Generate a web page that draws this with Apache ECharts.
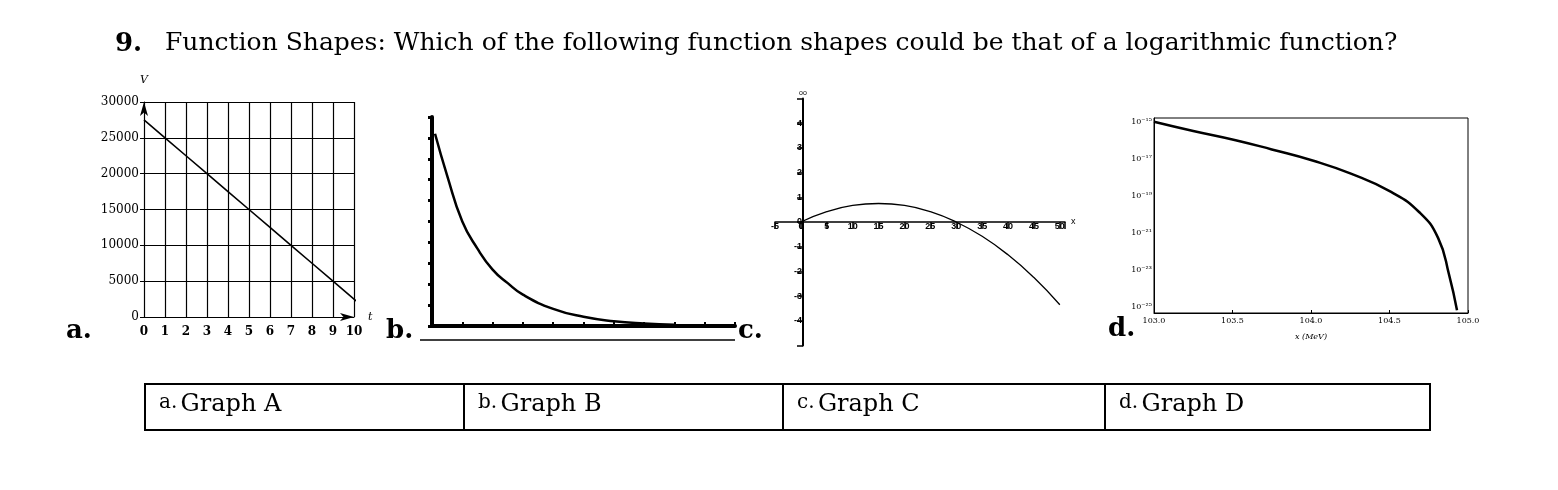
<!DOCTYPE html>
<html>
<head>
<meta charset="UTF-8">
<script src="https://cdn.jsdelivr.net/npm/echarts@6/dist/echarts.min.js"></script>
<style>html,body{margin:0;background:#fff}#main{width:1558px;height:490px}</style>
</head>
<body>
<div id="main"></div>
<script>
// Graph A: linear depreciation
var aT = [0, 1, 2, 3, 4, 5, 6, 7, 8, 9, 10, 10.7];
var aV = [27500, 25000, 22500, 20000, 17500, 15000, 12500, 10000, 7500, 5000, 2500, 750];
// Graph B: exponential decay
var bX = [0.1, 0.5, 1, 1.5, 2, 2.5, 3, 4, 5, 6, 7, 8];
var bY = [9.2, 7.2, 5.0, 3.7, 2.7, 2.05, 1.5, 0.82, 0.44, 0.23, 0.12, 0.06];
// Graph C: parabola
var cX = [0, 5, 10, 15, 20, 25, 30, 35, 40, 45, 50];
var cY = [0, 0.42, 0.67, 0.75, 0.67, 0.42, 0, -0.58, -1.33, -2.25, -3.35];
// Graph D: log-scale curve (exponent of 10)
var dX = [103.0, 103.25, 103.52, 103.75, 104.01, 104.25, 104.51, 104.69, 104.81, 104.88, 104.93];
var dY = [-15.0, -15.5, -16.0, -16.5, -17.1, -17.8, -18.8, -19.9, -21.3, -23.3, -25.2];
var dTicks = [-25, -23, -21, -19, -17, -15];
var answerLetters = ['a.', 'b.', 'c.', 'd.'];
var answerNames = ['Graph A', 'Graph B', 'Graph C', 'Graph D'];

function pairs(xs, ys) { return xs.map(function (x, i) { return [x, ys[i]]; }); }
var serif = 'DejaVu Serif';
var sup = {'-':'\u207B','1':'\u00B9','2':'\u00B2','3':'\u00B3','5':'\u2075','7':'\u2077','9':'\u2079'};
function expLabel(v) { return '10' + String(v).split('').map(function (c) { return sup[c] || c; }).join(''); }

var chart = echarts.init(document.getElementById('main'));
var graphic = [
    {type: 'text', left: 115, top: 31, style: {text: '9.', font: 'bold 26px ' + serif, fill: '#000'}},
    {type: 'text', left: 165, top: 31, style: {text: 'Function Shapes: Which of the following function shapes could be that of a logarithmic function?', font: '25px ' + serif, fill: '#000'}},
    {type: 'text', left: 66, top: 318, style: {text: 'a.', font: 'bold 26px ' + serif, fill: '#000'}},
    {type: 'text', left: 386, top: 318, style: {text: 'b.', font: 'bold 26px ' + serif, fill: '#000'}},
    {type: 'text', left: 738, top: 318, style: {text: 'c.', font: 'bold 26px ' + serif, fill: '#000'}},
    {type: 'text', left: 1108, top: 316, style: {text: 'd.', font: 'bold 26px ' + serif, fill: '#000'}},
    {type: 'line', shape: {x1: 420, y1: 340, x2: 735, y2: 340}, style: {stroke: '#000', lineWidth: 1.5}}
];
// answer table
var cellX = [145, 464, 783, 1105, 1430];
graphic.push({type: 'rect', shape: {x: 145, y: 384, width: 1285, height: 46}, style: {fill: 'none', stroke: '#000', lineWidth: 2}});
for (var i = 0; i < 4; i++) {
    if (i > 0) graphic.push({type: 'line', shape: {x1: cellX[i], y1: 384, x2: cellX[i], y2: 430}, style: {stroke: '#000', lineWidth: 2}});
    graphic.push({type: 'text', left: cellX[i] + 14, top: 393, style: {
        text: '{s|' + answerLetters[i] + '} {b|' + answerNames[i] + '}',
        rich: {s: {font: '20px ' + serif, fill: '#000', verticalAlign: 'top'}, b: {font: '24px ' + serif, fill: '#000', verticalAlign: 'bottom'}}
    }});
}

var thin = {color: '#000', width: 1};
var option = {
    animation: false,
    graphic: graphic,
    grid: [
        {left: 144, top: 102, width: 210, height: 215},
        {left: 432, top: 117, width: 303, height: 209},
        {left: 775, top: 98.5, width: 290, height: 247},
        {left: 1154, top: 118, width: 314, height: 195, show: true, borderColor: '#000', borderWidth: 1}
    ],
    xAxis: [
        {gridIndex: 0, type: 'value', min: 0, max: 10, interval: 1,
         name: 't', nameGap: 14, nameTextStyle: {fontStyle: 'italic', fontSize: 11, fontFamily: serif},
         axisLine: {lineStyle: thin, symbol: ['none', 'arrow'], symbolSize: [6, 14]},
         axisTick: {show: false}, splitLine: {lineStyle: {color: '#000', width: 1.2}},
         axisLabel: {color: '#000', fontSize: 12, fontFamily: serif, fontWeight: 'bold', margin: 9}},
        {gridIndex: 1, type: 'value', min: 0, max: 10, interval: 1,
         axisLine: {lineStyle: {color: '#000', width: 4}},
         axisTick: {show: true, length: 4, inside: true, lineStyle: {color: '#000', width: 2}},
         axisLabel: {show: false}, splitLine: {show: false}},
        {gridIndex: 2, type: 'value', min: -5, max: 51, interval: 5, offset: -123.5,
         name: 'x', nameGap: 6, nameTextStyle: {fontSize: 9, color: '#000'},
         axisLine: {onZero: false, lineStyle: {color: '#000', width: 1.5}},
         axisTick: {show: true, length: 7, lineStyle: {color: '#000', width: 1.5}},
         axisLabel: {color: '#000', fontSize: 9, fontWeight: 'bold', margin: 0, formatter: function (v) { return v > 50 ? '' : v; }},
         splitLine: {show: false}},
        {gridIndex: 3, type: 'value', min: 103, max: 105, interval: 0.5,
         name: 'x (MeV)', nameLocation: 'middle', nameGap: 20,
         nameTextStyle: {fontSize: 8, fontStyle: 'italic', fontFamily: serif, color: '#000'},
         axisLine: {lineStyle: {color: '#000', width: 1}},
         axisTick: {inside: true, length: 3, lineStyle: {color: '#000'}},
         axisLabel: {color: '#000', fontSize: 8, fontFamily: serif, margin: 4, formatter: function (v) { return v.toFixed(1); }},
         splitLine: {show: false}}
    ],
    yAxis: [
        {gridIndex: 0, type: 'value', min: 0, max: 30000, interval: 5000,
         name: 'V', nameGap: 16, nameTextStyle: {fontStyle: 'italic', fontSize: 11, fontFamily: serif, align: 'center'},
         axisLine: {lineStyle: thin, symbol: ['none', 'arrow'], symbolSize: [6, 14]},
         axisTick: {show: true, length: 4, lineStyle: thin}, splitLine: {lineStyle: {color: '#000', width: 1.2}},
         axisLabel: {color: '#000', fontSize: 12, fontFamily: serif, margin: 5, formatter: function (v) { return v === 0 ? '0' : v; }}},
        {gridIndex: 1, type: 'value', min: 0, max: 10, interval: 1,
         axisLine: {lineStyle: {color: '#000', width: 4}},
         axisTick: {show: true, length: 4, lineStyle: {color: '#000', width: 3}},
         axisLabel: {show: false}, splitLine: {show: false}},
        {gridIndex: 2, type: 'value', min: -5, max: 5, interval: 1, offset: -28,
         name: 'oo', nameGap: 2, nameTextStyle: {fontSize: 7, color: '#000'},
         axisLine: {onZero: false, lineStyle: {color: '#000', width: 2}},
         axisTick: {show: true, length: 6, lineStyle: {color: '#000', width: 1.5}},
         axisLabel: {color: '#000', fontSize: 9, fontWeight: 'bold', margin: 1, formatter: function (v) { return Math.abs(v) === 5 ? '' : v; }},
         splitLine: {show: false}},
        {gridIndex: 3, type: 'value', min: -25.35, max: -14.8,
         axisLine: {lineStyle: {color: '#000', width: 1}},
         axisTick: {show: false},
         axisLabel: {color: '#000', fontSize: 8, fontFamily: serif, margin: 2,
                     customValues: dTicks, formatter: function (v) { return expLabel(Math.round(v)); }},
         splitLine: {show: false}}
    ],
    series: [
        {type: 'line', xAxisIndex: 0, yAxisIndex: 0, data: pairs(aT, aV), clip: false, showSymbol: false, lineStyle: {color: '#000', width: 1.6}},
        {type: 'line', xAxisIndex: 1, yAxisIndex: 1, data: pairs(bX, bY), smooth: true, showSymbol: false, lineStyle: {color: '#000', width: 2.5}},
        {type: 'line', xAxisIndex: 2, yAxisIndex: 2, data: pairs(cX, cY), smooth: true, showSymbol: false, lineStyle: {color: '#000', width: 1.3}},
        {type: 'line', xAxisIndex: 3, yAxisIndex: 3, data: pairs(dX, dY), smooth: true, showSymbol: false, lineStyle: {color: '#000', width: 2.5}}
    ]
};
chart.setOption(option);
</script>
</body>
</html>
